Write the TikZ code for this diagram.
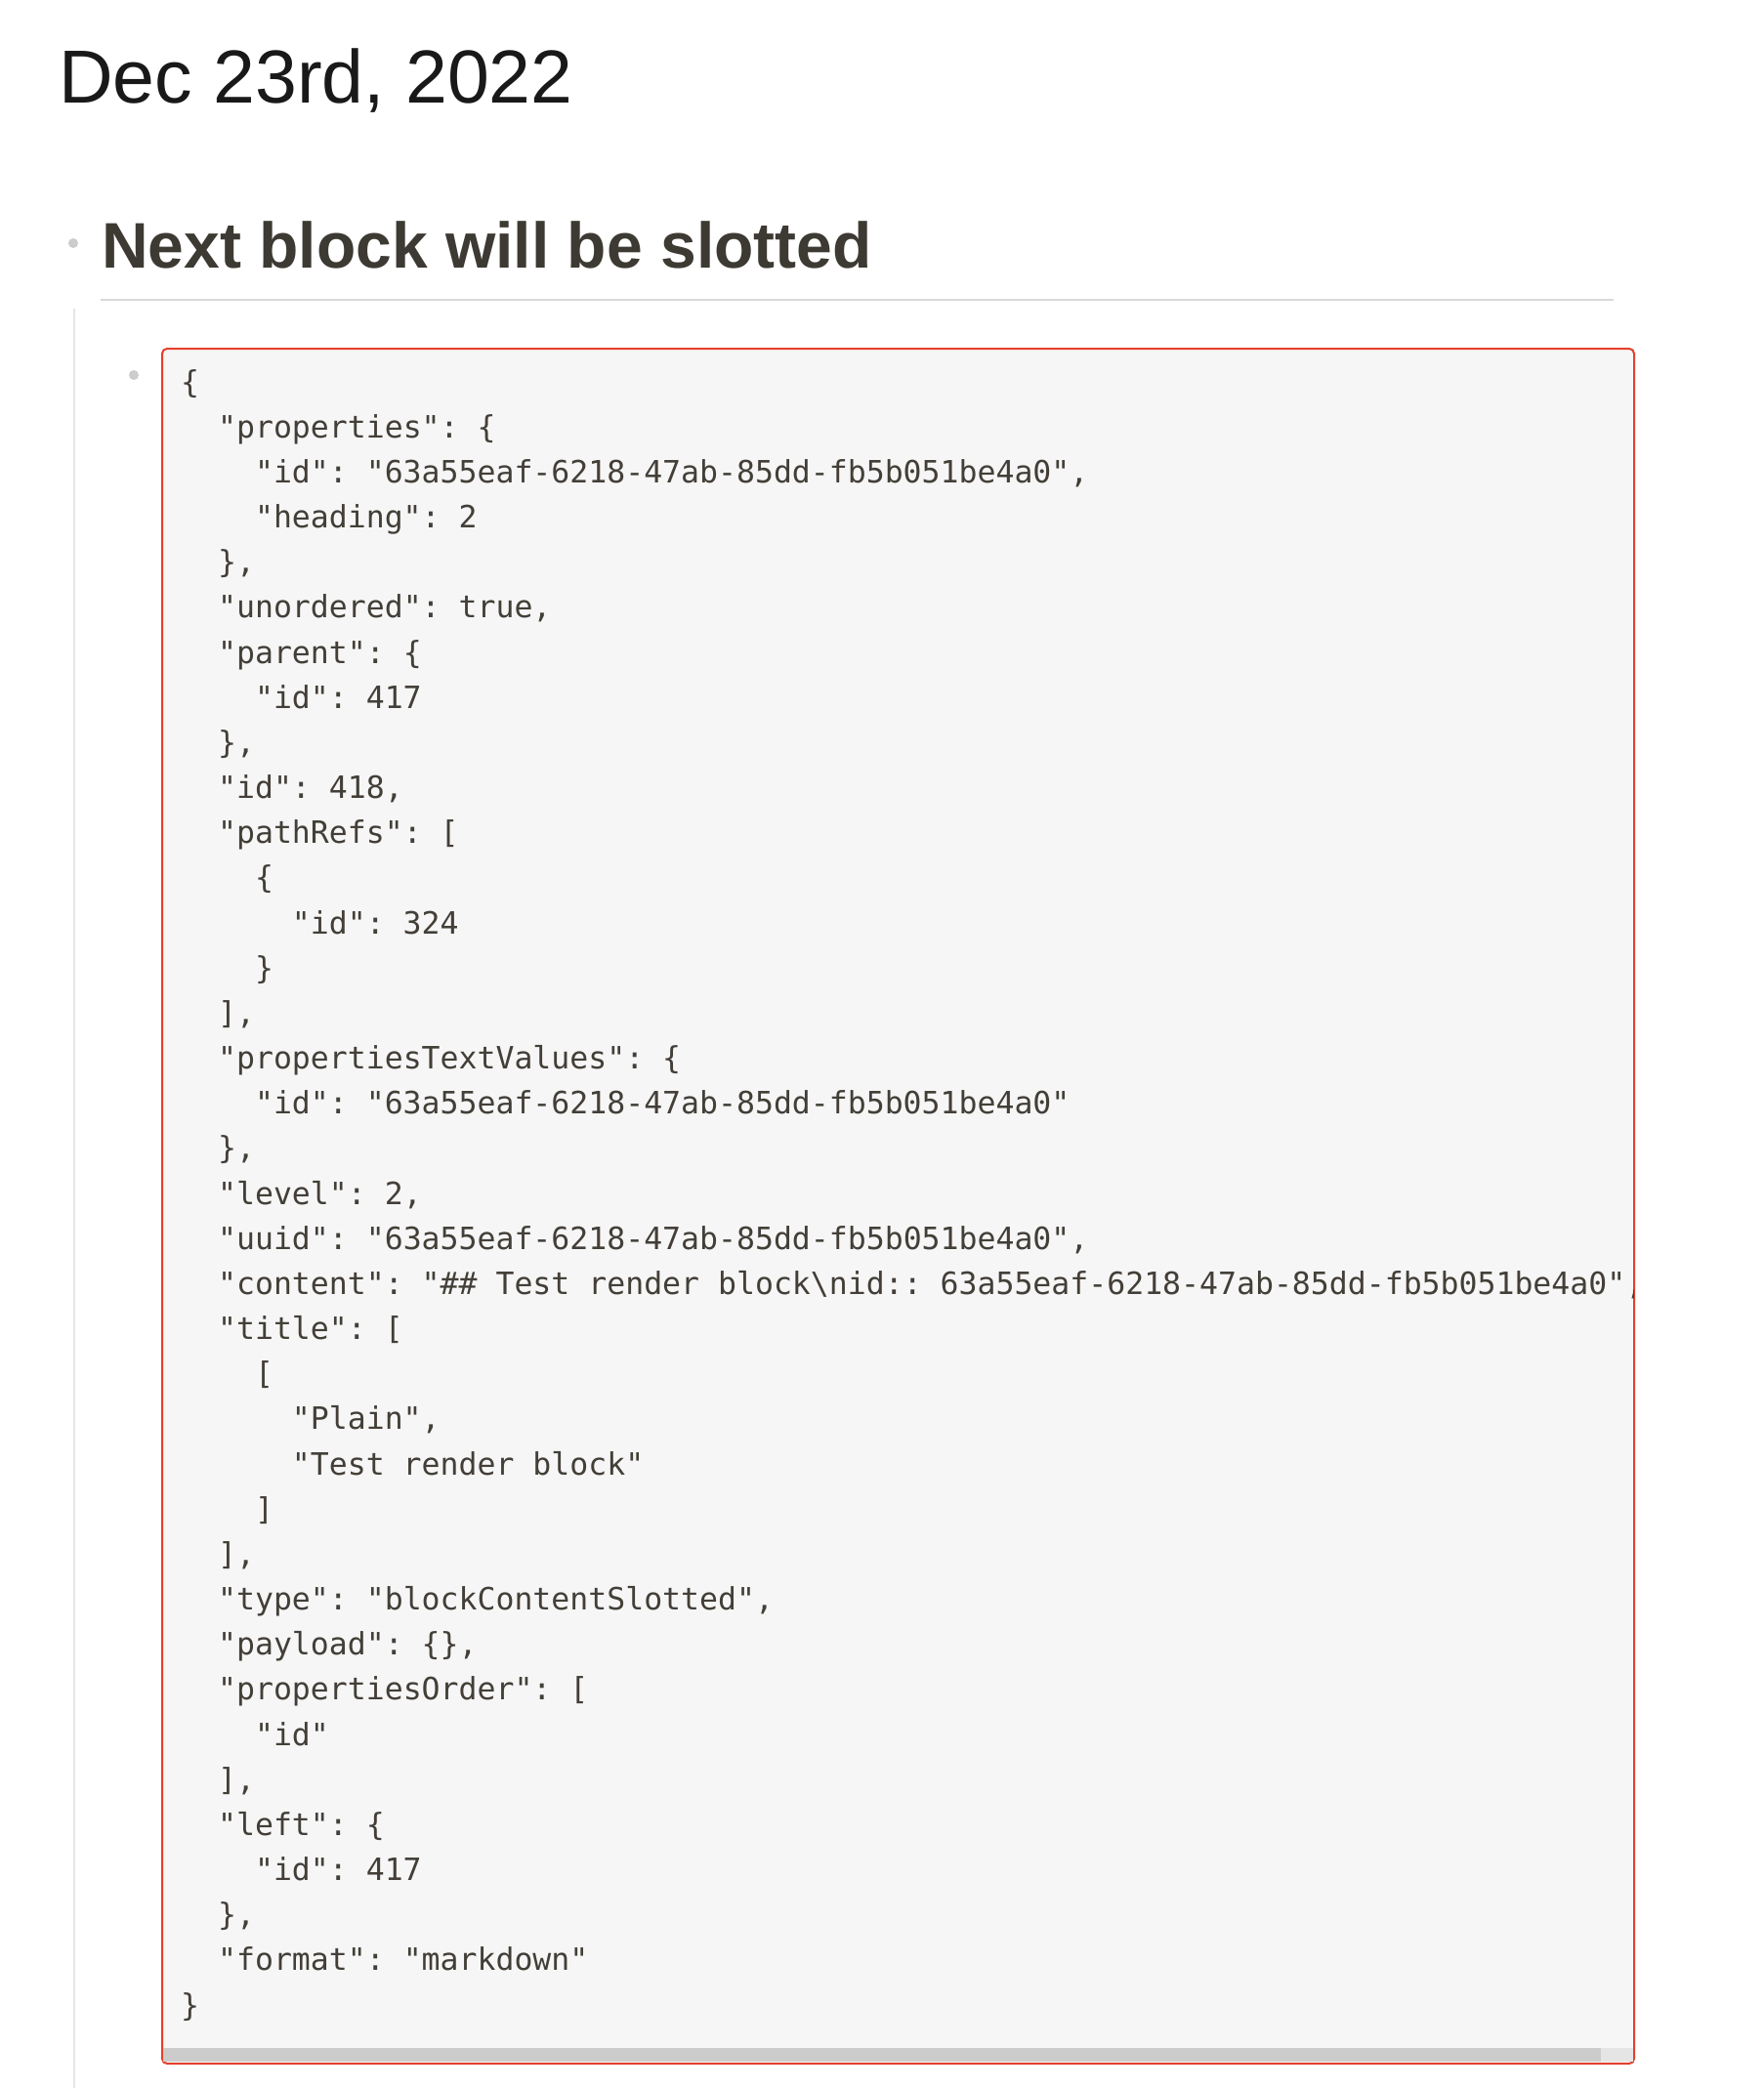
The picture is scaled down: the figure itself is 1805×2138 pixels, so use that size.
\documentclass[tikz,border=0pt]{standalone}
\usepackage{fontspec}
\setmainfont{Liberation Sans}
\setmonofont{DejaVu Sans Mono}
\definecolor{codetxt}{HTML}{433F38}
\definecolor{headtxt}{HTML}{3D3A33}
\definecolor{boxred}{HTML}{E5402C}
\definecolor{boxfill}{HTML}{F6F6F6}
\tikzset{codeln/.style={anchor=base west,inner sep=0pt,font=\fontsize{31.5}{36}\ttfamily,text=codetxt}}
\newcommand{\cl}[3]{\node[codeln] (l#1) at ({185+#2*18.96},{402+(#1-1)*46.17}) {#3};}
\begin{document}
\begin{tikzpicture}[x=1pt,y=-1pt]
\useasboundingbox (0,0) rectangle (1805,2138);
\fill[white] (0,0) rectangle (1805,2138);
\node[anchor=base west,inner sep=0pt,font=\fontsize{77}{90}\selectfont,text=black!90] (title) at (60,106) {Dec 23rd, 2022};
\fill[black!20] (75,249) circle (5);
\node[anchor=base west,inner sep=0pt,font=\fontsize{66}{80}\bfseries,text=headtxt] (head) at (104,274) {Next block will be slotted};
\draw[black!15,line width=2] (103,307) -- (1652,307);
\draw[black!10,line width=2] (76,316) -- (76,2138);
\fill[black!20] (137,384) circle (5);
\filldraw[draw=boxred,fill=boxfill,line width=2,rounded corners=5] (166,357) rectangle (1673,2113) node[coordinate] (boxse) {};
\fill[black!10] (167,2097) rectangle (1672,2111);
\fill[black!20] (167,2097) rectangle (1639,2111);
\begin{scope}
\clip (167,358) rectangle (1672,2096);
\cl{1}{0}{\{}
\cl{2}{2}{"properties": \{}
\cl{3}{4}{"id": "63a55eaf-6218-47ab-85dd-fb5b051be4a0",}
\cl{4}{4}{"heading": 2}
\cl{5}{2}{\},}
\cl{6}{2}{"unordered": true,}
\cl{7}{2}{"parent": \{}
\cl{8}{4}{"id": 417}
\cl{9}{2}{\},}
\cl{10}{2}{"id": 418,}
\cl{11}{2}{"pathRefs": [}
\cl{12}{4}{\{}
\cl{13}{6}{"id": 324}
\cl{14}{4}{\}}
\cl{15}{2}{],}
\cl{16}{2}{"propertiesTextValues": \{}
\cl{17}{4}{"id": "63a55eaf-6218-47ab-85dd-fb5b051be4a0"}
\cl{18}{2}{\},}
\cl{19}{2}{"level": 2,}
\cl{20}{2}{"uuid": "63a55eaf-6218-47ab-85dd-fb5b051be4a0",}
\cl{21}{2}{"content": "\#\# Test render block\textbackslash nid:: 63a55eaf-6218-47ab-85dd-fb5b051be4a0",}
\cl{22}{2}{"title": [}
\cl{23}{4}{[}
\cl{24}{6}{"Plain",}
\cl{25}{6}{"Test render block"}
\cl{26}{4}{]}
\cl{27}{2}{],}
\cl{28}{2}{"type": "blockContentSlotted",}
\cl{29}{2}{"payload": \{\},}
\cl{30}{2}{"propertiesOrder": [}
\cl{31}{4}{"id"}
\cl{32}{2}{],}
\cl{33}{2}{"left": \{}
\cl{34}{4}{"id": 417}
\cl{35}{2}{\},}
\cl{36}{2}{"format": "markdown"}
\cl{37}{0}{\}}
\end{scope}
\end{tikzpicture}
\end{document}
